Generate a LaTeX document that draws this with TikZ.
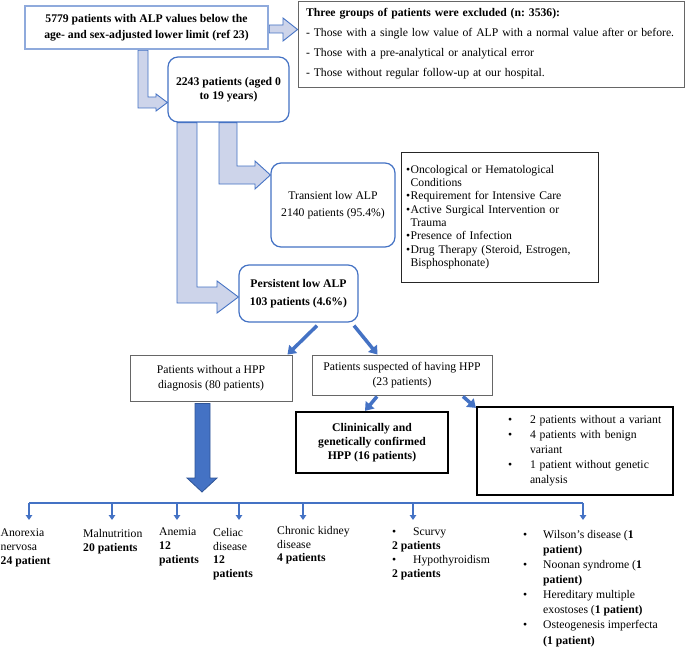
\documentclass[tikz,border=0pt]{standalone}
\usepackage{fontspec}
\setmainfont{Liberation Serif}
\usetikzlibrary{arrows.meta,shadows,backgrounds}
\definecolor{bl}{HTML}{4472C4}
\definecolor{lbl}{HTML}{8FAADC}
\definecolor{fatfill}{HTML}{CDD4EA}
\definecolor{dbl}{HTML}{2F5597}
\newcommand\fsz[1]{\fontsize{11.7}{#1}\selectfont}
\newcommand\bbul{\makebox[4.6pt][l]{\textbullet}}
\newcommand\bind{\hspace*{4.6pt}}
\begin{document}
\begin{tikzpicture}[x=1pt,y=-1pt,
  font=\fsz{13.7},
  txt/.style={inner sep=0pt, align=left, anchor=north west},
  topbox/.style={draw=lbl, line width=2.5pt, fill=white, align=center, inner sep=0pt},
  rbox/.style={draw=bl, line width=1.2pt, rounded corners=10pt, fill=white, align=center, inner sep=0pt},
  gbox/.style={draw=black!60, line width=0.9pt, fill=white, align=center, inner sep=0pt},
  kbox/.style={draw=black, line width=2.2pt, fill=white, inner sep=0pt},
  fat/.style={fill=fatfill, draw=bl, line width=0.9pt, line join=miter},
  bigarr/.style={fill=bl, draw=dbl, line width=0.8pt, line join=miter},
  thinarr/.style={draw=bl, line width=3.5pt, -{Triangle[length=8pt,width=11pt]}},
  tickarr/.style={draw=bl, line width=1.8pt, -{Triangle[length=5pt,width=6.5pt]}}
]
\useasboundingbox (0,0) rectangle (685,650);

% top box
\node[topbox, minimum width=243pt, minimum height=43pt, font=\fsz{16}\bfseries] (b1) at (146.5,27.5)
  {5779 patients with ALP values below the\\age- and sex-adjusted lower limit (ref 23)};

% exclusion box
\node[gbox, drop shadow={shadow xshift=1.3pt, shadow yshift=-1.3pt, fill=black!60, opacity=0.7},
  minimum width=386pt, minimum height=86pt, text width=370pt, inner xsep=8pt, align=left, font=\fsz{20}] (excl) at (491,44)
  {\textbf{Three groups of patients were excluded (n:\ 3536):}\\
   - Those with a single low value of ALP with a normal value after or before.\\
   - Those with a pre-analytical or analytical error\\
   - Those without regular follow-up at our hospital.};

% 2243 box
\node[rbox, minimum width=121pt, minimum height=65pt, font=\fsz{13.5}\bfseries] (b2) at (228.5,89.5)
  {2243 patients (aged 0\\to 19 years)};

% transient
\node[rbox, minimum width=124pt, minimum height=84pt, font=\fsz{17}] (trans) at (333,205)
  {Transient low ALP\\2140 patients (95.4\%)};

% causes
\node[gbox, draw=black!85, minimum width=197pt, minimum height=130pt, text width=187pt, inner xsep=5pt, align=left, font=\fsz{13.3}] (causes) at (499.5,217)
  {\bbul Oncological or Hematological\\
   \bind Conditions\\
   \bbul Requirement for Intensive Care\\
   \bbul Active Surgical Intervention or\\
   \bind Trauma\\
   \bbul Presence of Infection\\
   \bbul Drug Therapy (Steroid, Estrogen,\\
   \bind Bisphosphonate)};

% persistent
\node[rbox, minimum width=119pt, minimum height=57pt, font=\fsz{18}\bfseries] (pers) at (298.5,293.5)
  {Persistent low ALP\\103 patients (4.6\%)};

% without HPP
\node[gbox, minimum width=162pt, minimum height=46pt, font=\fsz{15.5}] (without) at (211,378)
  {Patients without a HPP\\diagnosis (80 patients)};

% suspected
\node[gbox, minimum width=180pt, minimum height=40pt, font=\fsz{15}] (susp) at (402,375)
  {Patients suspected of having HPP\\(23 patients)};

% confirmed
\node[kbox, minimum width=152pt, minimum height=61pt, align=center, font=\fsz{14}\bfseries] (conf) at (372,442.5)
  {Clininically and\\genetically confirmed\\HPP (16 patients)};

% others
\node[kbox, minimum width=196pt, minimum height=88pt, text width=196pt, align=left, font=\fsz{15}] (others) at (575,451)
  {\hspace*{31pt}\makebox[22pt][l]{\textbullet}2 patients without a variant\\
   \hspace*{31pt}\makebox[22pt][l]{\textbullet}4 patients with benign\\
   \hspace*{53pt}variant\\
   \hspace*{31pt}\makebox[22pt][l]{\textbullet}1 patient without genetic\\
   \hspace*{53pt}analysis};

% fat arrows (background)
\begin{scope}[on background layer]
\draw[fat] (b1.east |- 0,25) -- (283,25) -- (283,18) -- (excl.west |- 0,29.5) -- (283,41) -- (283,33) -- (b1.east |- 0,33) -- cycle;
\draw[fat] (138,0 |- b1.south) -- (148,0 |- b1.south) -- (148,97) -- (156,97) -- (156,94) -- (b2.west |- 0,102.5) -- (156,111) -- (156,108) -- (138,108) -- cycle;
\draw[fat] (177,0 |- b2.south) -- (197,0 |- b2.south) -- (197,287) -- (217,287) -- (217,281) -- (pers.west |- 0,297) -- (217,313) -- (217,303) -- (177,303) -- cycle;
\draw[fat] (219,0 |- b2.south) -- (237,0 |- b2.south) -- (237,166) -- (255,166) -- (255,161) -- (trans.west |- 0,175) -- (255,189) -- (255,184) -- (219,184) -- cycle;
\end{scope}

% thin arrows
\draw[thinarr] ([xshift=18.5pt,yshift=-3pt]pers.south) -- ([xshift=-5pt]without.north east);
\draw[thinarr] ([xshift=55.5pt,yshift=-3pt]pers.south) -- ([xshift=66pt]susp.north west);
\draw[thinarr] ([xshift=-25pt,yshift=-1pt]susp.south) -- ([xshift=-7pt]conf.north);
\draw[thinarr] ([xshift=61pt,yshift=-1pt]susp.south) -- ([yshift=-2pt]others.north west);

% big arrow
\draw[bigarr] ([yshift=-2pt]195,0 |- without.south) -- ([yshift=-2pt]210,0 |- without.south) -- (210,478) -- (217,478) -- (202,492) -- (187,478) -- (195,478) -- cycle;

% bus
\coordinate (busL) at (29,503);
\coordinate (busR) at (583,503);
\draw[bl, line width=1.8pt] (busL) -- (busR);
\foreach \k/\x in {1/29,2/112,3/177,4/239,5/303,6/413,7/583}{
  \coordinate (k\k) at (\x,520);
  \draw[tickarr] (k\k |- busL) -- (k\k);
}

% bottom texts
\node[txt] (t1) at (0.5,529) {Anorexia\\nervosa\\\textbf{24 patient}};
\node[txt] (t2) at (83,529) {Malnutrition\\\textbf{20 patients}};
\node[txt] (t3) at (159,528) {Anemia\\\textbf{12}\\\textbf{patients}};
\node[txt] (t4) at (213,528) {Celiac\\disease\\\textbf{12}\\\textbf{patients}};
\node[txt] (t5) at (277,526) {Chronic kidney\\disease\\\textbf{4 patients}};
\node[txt] (t6) at (392,528) {\makebox[21pt][l]{\textbullet}Scurvy\\\textbf{2 patients}\\\makebox[21pt][l]{\textbullet}Hypothyroidism\\\textbf{2 patients}};
\node[txt, font=\fsz{15.1}] (t7) at (523,530)
  {\makebox[20pt][l]{\textbullet}Wilson's disease (\textbf{1}\\
   \hspace*{20pt}\textbf{patient)}\\
   \makebox[20pt][l]{\textbullet}Noonan syndrome (\textbf{1}\\
   \hspace*{20pt}\textbf{patient)}\\
   \makebox[20pt][l]{\textbullet}Hereditary multiple\\
   \hspace*{20pt}exostoses (\textbf{1 patient)}\\
   \makebox[20pt][l]{\textbullet}Osteogenesis imperfecta\\
   \hspace*{20pt}\textbf{(1 patient)}};
\end{tikzpicture}
\end{document}
